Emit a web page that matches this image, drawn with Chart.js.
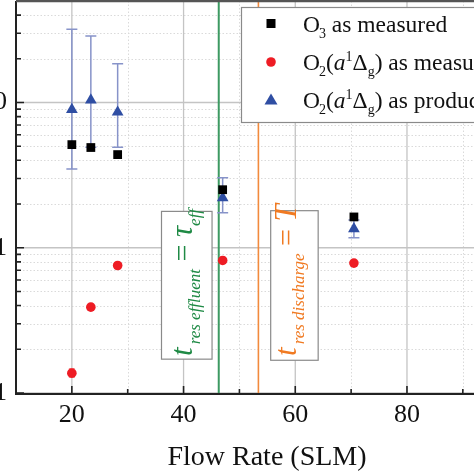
<!DOCTYPE html>
<html>
<head>
<meta charset="utf-8">
<script src="https://cdn.jsdelivr.net/npm/chart.js@4.4.1/dist/chart.umd.min.js"></script>
<style>
html,body{margin:0;padding:0;background:#fff;}
canvas{display:block;}
</style>
</head>
<body>
<canvas id="c" width="474" height="474"></canvas>
<script>
// ---- data ----
const flowRate = [20, 23.4, 28.2, 47.0, 70.5];
const o3Measured = [5.13, 4.9, 4.38, 2.51, 1.63];
const o3Low = [4.97, 4.74, 4.22, 2.43, 1.58];
const o3High = [5.30, 5.06, 4.54, 2.60, 1.69];
const o2Measured = [0.137, 0.39, 0.755, 0.818, 0.784];
const o2MeasLow = [0.128, 0.37, 0.72, 0.78, 0.75];
const o2MeasHigh = [0.147, 0.41, 0.79, 0.86, 0.82];
const o2Produced = [8.95, 10.4, 8.58, 2.21, 1.35];
const o2ProdLow = [3.49, 4.92, 4.92, 1.74, 1.17];
const o2ProdHigh = [31.9, 28.7, 18.5, 3.03, 1.55];
const xTickValues = [20, 40, 60, 80];
const xMinorValues = [30, 50, 70, 90];
const yTickValues = [0.1, 1, 10];
const yTickLabels = ['0.1', '1', '10'];
const yMinorValues = [0.2,0.3,0.4,0.5,0.6,0.7,0.8,0.9,2,3,4,5,6,7,8,9,20,30,40];
const tEffluent = 46.3;
const tDischarge = 53.4;
const legendLabels = ['as measured', 'as measured', 'as produced'];
const xTitle = 'Flow Rate (SLM)';

const SERIF = "'Liberation Serif', 'Times New Roman', serif";

function pts(xs, ys){ return xs.map((x,i)=>({x:x, y:ys[i]})); }

function drawRuns(ctx, x, y, runs){
  let cx = x;
  for (const r of runs){
    ctx.font = r.font;
    ctx.fillText(r.t, cx, y + (r.dy||0));
    cx += ctx.measureText(r.t).width + (r.kern||0);
  }
}

function noPad(s){ s.paddingTop = 0; s.paddingBottom = 0; s.paddingLeft = 0; s.paddingRight = 0; }

const decor = {
  id: 'decor',
  beforeDatasetsDraw(chart){
    const ctx = chart.ctx, a = chart.chartArea;
    const xs = chart.scales.x, ys = chart.scales.y;
    ctx.save();
    // grid
    ctx.lineWidth = 1;
    ctx.strokeStyle = '#dadada';
    ctx.setLineDash([1.5, 2]);
    for (const v of xMinorValues){ const p = Math.round(xs.getPixelForValue(v))+0.5; ctx.beginPath(); ctx.moveTo(p,a.top); ctx.lineTo(p,a.bottom); ctx.stroke(); }
    for (const v of yMinorValues){ const p = Math.round(ys.getPixelForValue(v))+0.5; ctx.beginPath(); ctx.moveTo(a.left,p); ctx.lineTo(a.right,p); ctx.stroke(); }
    ctx.setLineDash([]);
    ctx.strokeStyle = '#c4c4c4';
    ctx.lineWidth = 1.3;
    for (const v of xTickValues){ const p = xs.getPixelForValue(v); ctx.beginPath(); ctx.moveTo(p,a.top); ctx.lineTo(p,a.bottom); ctx.stroke(); }
    for (const v of yTickValues){ const p = ys.getPixelForValue(v); ctx.beginPath(); ctx.moveTo(a.left,p); ctx.lineTo(a.right,p); ctx.stroke(); }

    // annotation boxes
    const boxes = [
      {x0:36.05, x1:45.1, y0:1.78, y1:0.171},
      {x0:55.6, x1:64.1, y0:1.8, y1:0.168}
    ];
    ctx.lineWidth = 1.2;
    ctx.strokeStyle = '#8a8a8a';
    ctx.fillStyle = '#fff';
    for (const b of boxes){
      const l = xs.getPixelForValue(b.x0), r = xs.getPixelForValue(b.x1);
      const t = ys.getPixelForValue(b.y0), bt = ys.getPixelForValue(b.y1);
      ctx.fillRect(l, t, r-l, bt-t);
      ctx.strokeRect(l, t, r-l, bt-t);
    }
    // vertical lines
    ctx.lineWidth = 2;
    ctx.strokeStyle = '#3d9a62';
    let p = xs.getPixelForValue(tEffluent);
    ctx.beginPath(); ctx.moveTo(p,a.top); ctx.lineTo(p,a.bottom); ctx.stroke();
    ctx.lineWidth = 1.6;
    ctx.strokeStyle = '#f28a3c';
    p = xs.getPixelForValue(tDischarge);
    ctx.beginPath(); ctx.moveTo(p,a.top); ctx.lineTo(p,a.bottom); ctx.stroke();

    // rotated annotation texts
    const big = "italic 31px " + SERIF, sub = "italic 17px " + SERIF, norm = "30px " + SERIF;
    function rot(x, y, color, runs){
      ctx.save();
      ctx.translate(x, y);
      ctx.rotate(-Math.PI/2);
      ctx.fillStyle = color;
      ctx.textBaseline = 'alphabetic';
      ctx.textAlign = 'left';
      drawRuns(ctx, 0, 0, runs);
      ctx.restore();
    }
    rot(xs.getPixelForValue(41.5), ys.getPixelForValue(0.18), '#1f8a45', [
      {t:'t', font:big, kern:3},
      {t:'res effluent', font:sub, dy:8},
      {t:' = ', font:norm},
      {t:'\u03C4', font:big},
      {t:'eff', font:sub, dy:8}
    ]);
    rot(xs.getPixelForValue(60.1), ys.getPixelForValue(0.18), '#f07a22', [
      {t:'t', font:big, kern:3},
      {t:'res discharge', font:sub, dy:8},
      {t:' = ', font:norm},
      {t:'T', font:big}
    ]);

    // error bars
    function ebars(lo, hi, color, w, cap){
      ctx.strokeStyle = color; ctx.lineWidth = w;
      for (let i=0;i<flowRate.length;i++){
        const x = xs.getPixelForValue(flowRate[i]);
        const y0 = ys.getPixelForValue(lo[i]), y1 = ys.getPixelForValue(hi[i]);
        ctx.beginPath();
        ctx.moveTo(x,y0); ctx.lineTo(x,y1);
        ctx.moveTo(x-cap,y0); ctx.lineTo(x+cap,y0);
        ctx.moveTo(x-cap,y1); ctx.lineTo(x+cap,y1);
        ctx.stroke();
      }
    }
    ebars(o2ProdLow, o2ProdHigh, '#8793c9', 1.5, 5.5);
    ebars(o3Low, o3High, '#6a6a6a', 1, 3);
    ebars(o2MeasLow, o2MeasHigh, '#f28b8b', 1, 3);
    ctx.restore();
  },
  afterDraw(chart){
    const ctx = chart.ctx, a = chart.chartArea;
    const xs = chart.scales.x, ys = chart.scales.y;
    ctx.save();
    // axes
    ctx.strokeStyle = '#222';
    ctx.lineWidth = 2;
    ctx.beginPath(); ctx.moveTo(a.left, a.top); ctx.lineTo(a.left, a.bottom+1); ctx.lineTo(a.right, a.bottom+1); ctx.stroke();
    ctx.strokeStyle = '#555';
    ctx.lineWidth = 2.5;
    ctx.beginPath(); ctx.moveTo(a.left, a.top); ctx.lineTo(a.right, a.top); ctx.stroke();
    // inside ticks
    ctx.strokeStyle = '#222';
    ctx.lineWidth = 1.6;
    ctx.beginPath();
    for (const v of yTickValues){ const p = ys.getPixelForValue(v); ctx.moveTo(a.left, p); ctx.lineTo(a.left+8, p); }
    for (const v of yMinorValues){ const p = ys.getPixelForValue(v); ctx.moveTo(a.left, p); ctx.lineTo(a.left+5, p); }
    for (const v of xTickValues){ const p = xs.getPixelForValue(v); ctx.moveTo(p, a.bottom); ctx.lineTo(p, a.bottom-7); }
    for (const v of xMinorValues){ const p = xs.getPixelForValue(v); ctx.moveTo(p, a.bottom); ctx.lineTo(p, a.bottom-4); }
    ctx.stroke();

    // x title
    ctx.fillStyle = '#111';
    ctx.font = "28px " + SERIF;
    ctx.textAlign = 'center';
    ctx.textBaseline = 'middle';
    ctx.fillText(xTitle, 267, 458);

    // legend
    ctx.fillStyle = '#fff';
    ctx.strokeStyle = '#8a8a8a';
    ctx.lineWidth = 1.2;
    ctx.fillRect(241, 7, 240, 115);
    ctx.strokeRect(241.5, 7.5, 240, 115);
    const rows = [23.5, 62, 100];
    const mx = 271;
    ctx.fillStyle = '#000';
    ctx.fillRect(mx-4.5, rows[0]-4.5, 9, 9);
    ctx.fillStyle = '#ee1c24';
    ctx.beginPath(); ctx.arc(mx, rows[1], 4.8, 0, Math.PI*2); ctx.fill();
    ctx.fillStyle = '#2f4ea3';
    ctx.beginPath(); ctx.moveTo(mx, rows[2]-6.5); ctx.lineTo(mx+6.5, rows[2]+4.5); ctx.lineTo(mx-6.5, rows[2]+4.5); ctx.closePath(); ctx.fill();

    ctx.fillStyle = '#111';
    ctx.textAlign = 'left';
    ctx.textBaseline = 'alphabetic';
    const N = "23.5px " + SERIF, S = "14px " + SERIF, I = "italic 23.5px " + SERIF;
    drawRuns(ctx, 303, rows[0]+8, [
      {t:'O', font:N, kern:-1}, {t:'3', font:S, dy:6}, {t:' ' + legendLabels[0], font:N}
    ]);
    for (let k=1;k<3;k++){
      drawRuns(ctx, 303, rows[k]+8, [
        {t:'O', font:N, kern:-1}, {t:'2', font:S, dy:6}, {t:'(', font:N}, {t:'a', font:I},
        {t:'1', font:S, dy:-9}, {t:'\u0394', font:N}, {t:'g', font:S, dy:6}, {t:') ' + legendLabels[k], font:N}
      ]);
    }
    ctx.restore();
  }
};

new Chart(document.getElementById('c'), {
  type: 'scatter',
  data: {
    datasets: [
      { label: 'O3 as measured', data: pts(flowRate, o3Measured), pointStyle: 'rect', pointRadius: 6.2, backgroundColor: '#000', borderColor: '#000', borderWidth: 0 },
      { label: 'O2(a1Δg) as measured', data: pts(flowRate, o2Measured), pointStyle: 'circle', pointRadius: 4.8, backgroundColor: '#ee1c24', borderColor: '#ee1c24', borderWidth: 0 },
      { label: 'O2(a1Δg) as produced', data: pts(flowRate, o2Produced), pointStyle: 'triangle', pointRadius: 6.8, backgroundColor: '#2f4ea3', borderColor: '#2f4ea3', borderWidth: 0 }
    ]
  },
  options: {
    responsive: false,
    animation: false,
    devicePixelRatio: 1,
    layout: { autoPadding: false, padding: { top: 1, right: 0, left: 0, bottom: 0 } },
    plugins: { legend: { display: false }, tooltip: { enabled: false } },
    scales: {
      x: {
        type: 'linear', min: 10, max: 92,
        grid: { display: false, drawTicks: false },
        border: { display: false },
        afterBuildTicks: s => { s.ticks = xTickValues.map(v => ({ value: v })); },
        afterFit: s => { s.height = 81; noPad(s); },
        ticks: { font: { family: SERIF, size: 26, lineHeight: 1.2 }, color: '#111', padding: 7, maxRotation: 0, callback: v => String(v) }
      },
      y: {
        type: 'logarithmic', min: 0.1, max: 50,
        grid: { display: false, drawTicks: false },
        border: { display: false },
        afterBuildTicks: s => { s.ticks = yTickValues.map(v => ({ value: v })); },
        afterFit: s => { s.width = 16; noPad(s); },
        ticks: { font: { family: SERIF, size: 26 }, color: '#111', padding: 9,
          callback: (v) => { const i = yTickValues.findIndex(t => Math.abs(t - v) < 1e-9); return i >= 0 ? yTickLabels[i] : ''; } }
      }
    }
  },
  plugins: [decor]
});
</script>
</body>
</html>
